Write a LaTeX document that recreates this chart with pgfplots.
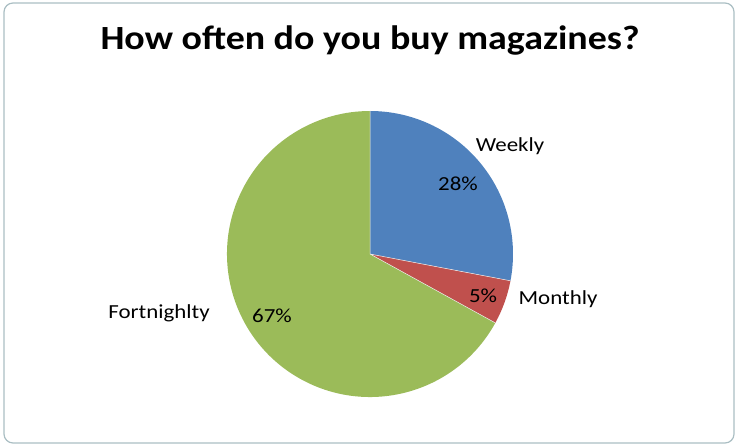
\documentclass[border=0pt]{standalone}
\usepackage{fontspec}
\setmainfont{Carlito}
\usepackage{graphicx}
\usepackage{pgfplots}
\usepackage{pgfplotstable}
\pgfplotsset{compat=1.18}

\definecolor{wkblue}{RGB}{79,129,189}
\definecolor{mored}{RGB}{192,80,77}
\definecolor{fngreen}{RGB}{155,187,89}
\definecolor{frame}{RGB}{170,190,195}

% share of answers in percent
\pgfplotstableread{
label value
Weekly 28
Monthly 5
Fortnightly 67
}\piedata

\pgfplotstablegetelem{0}{value}\of\piedata \let\vW\pgfplotsretval
\pgfplotstablegetelem{1}{value}\of\piedata \let\vM\pgfplotsretval
\pgfplotstablegetelem{2}{value}\of\piedata \let\vF\pgfplotsretval

% slices start at 12 o'clock and run clockwise
\pgfmathsetmacro\aA{90}
\pgfmathsetmacro\aB{\aA-3.6*\vW}
\pgfmathsetmacro\aC{\aB-3.6*\vM}
\pgfmathsetmacro\aD{\aC-3.6*\vF}

\newcommand\lbl[1]{\scalebox{1.15}[1]{\fontsize{20}{24}\selectfont #1}}

\begin{document}
\begin{tikzpicture}
\begin{axis}[
  width=740bp, height=447bp, scale only axis,
  xmin=0, xmax=740, ymin=0, ymax=447,
  hide axis, clip=false]

\path (axis cs:0,0) rectangle (axis cs:740,447);
\draw[frame, line width=1.2pt, rounded corners=9bp]
  (axis cs:4,4) rectangle (axis cs:734,444);

\fill[wkblue] (axis cs:370,193) -- ++(\aA:143bp)
  arc[start angle=\aA, end angle=\aB, radius=143bp] -- cycle;
\fill[mored] (axis cs:370,193) -- ++(\aB:143bp)
  arc[start angle=\aB, end angle=\aC, radius=143bp] -- cycle;
\fill[fngreen] (axis cs:370,193) -- ++(\aC:143bp)
  arc[start angle=\aC, end angle=\aD, radius=143bp] -- cycle;
\draw[white!85!gray, line width=0.5pt]
  (axis cs:370,193) -- ++(\aA:143bp)
  (axis cs:370,193) -- ++(\aB:143bp)
  (axis cs:370,193) -- ++(\aC:143bp);

\node[anchor=base] at (axis cs:370,397)
  {\scalebox{1.12}[1]{\fontsize{34}{40}\selectfont\bfseries How often do you buy magazines?}};

\node[anchor=base] at (axis cs:510,295) {\lbl{Weekly}};
\node[anchor=base] at (axis cs:458,256) {\lbl{\vW\%}};
\node[anchor=base] at (axis cs:558,143) {\lbl{Monthly}};
\node[anchor=base] at (axis cs:483,145) {\lbl{\vM\%}};
\node[anchor=base] at (axis cs:159,129) {\lbl{Fortnighlty}};
\node[anchor=base] at (axis cs:272,125) {\lbl{\vF\%}};
\end{axis}
\end{tikzpicture}
\end{document}
